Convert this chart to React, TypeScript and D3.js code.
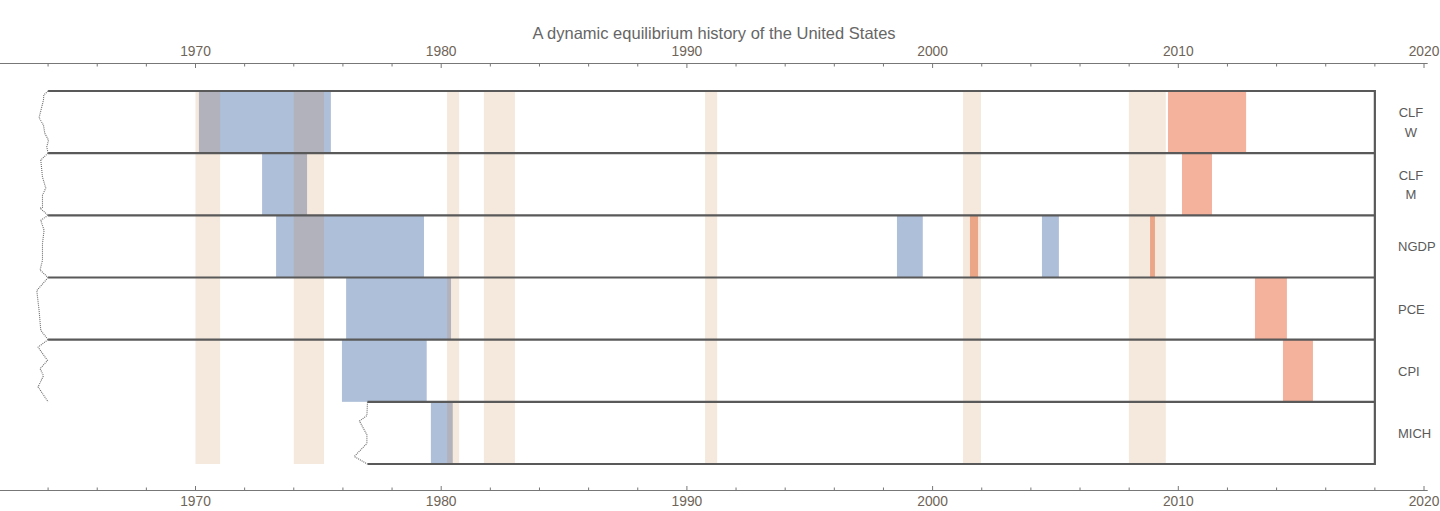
import React from "react";
import * as d3 from "d3";

// ---- data ----
const rowLabels: string[][] = [["CLF", "W"], ["CLF", "M"], ["NGDP"], ["PCE"], ["CPI"], ["MICH"]];
const rowStartYears = [1964, 1964, 1964, 1964, 1964, 1977];
const rowEndYear = 2018;

const recessionStarts = [1970.0, 1974.0, 1980.24, 1981.74, 1990.74, 2001.24, 2007.99];
const recessionEnds = [1971.0, 1975.23, 1980.73, 1983.0, 1991.23, 2001.97, 2009.49];

// shocks: row index, start, end, sign (-1 negative / blue, +1 positive / red)
const shockRows = [0, 0, 1, 1, 2, 2, 2, 2, 2, 3, 3, 4, 4, 5];
const shockStarts = [1970.14, 2009.58, 1972.71, 2010.15, 1973.28, 1998.55, 2001.52, 2004.45, 2008.85, 1976.13, 2013.12, 1975.96, 2014.26, 1979.58];
const shockEnds = [1975.51, 2012.76, 1974.54, 2011.37, 1979.3, 1999.6, 2001.85, 2005.14, 2009.05, 1980.4, 2014.42, 1979.41, 2015.48, 1980.47];
const shockSigns = [-1, 1, -1, 1, -1, -1, 1, -1, 1, -1, 1, -1, 1, -1];

const majorTicks = [1970, 1980, 1990, 2000, 2010, 2020];
const minorTicks = d3.range(1964, 2021, 2).filter((y) => y % 10 !== 0);

// torn left edge: [fraction of row height, offset px]
const tears: number[][][] = [
  [[0, 0], [0.065, -4.3], [0.145, -4.6], [0.43, -9], [0.55, -4.6], [0.68, -3.3], [0.79, 0.4], [0.9, -1.3], [1, 0]],
  [[0, 0], [0.11, -7.3], [0.385, -5.6], [0.56, -2.3], [0.675, -5.6], [0.87, -5.6], [0.885, -8], [1, 0]],
  [[0, 0], [0.08, -7.3], [0.24, -4], [0.45, -5.6], [0.72, -5.6], [0.88, -8], [1, 0]],
  [[0, 0], [0.21, -11.3], [0.53, -9], [0.85, -7.3], [1, 0]],
  [[0, 0], [0.12, -10], [0.335, -0.6], [0.465, -8], [0.58, -4.6], [0.76, -10], [1, 0]],
  [[0, 0], [0.22, -0.6], [0.31, -8], [0.53, -0.6], [0.67, -0.6], [0.88, -13.3], [1, 0]],
];

const title = "A dynamic equilibrium history of the United States";

// ---- layout ----
const W = 1440;
const H = 511;
const x = d3.scaleLinear().domain([1970, 2020]).range([195.5, 1424]);
const rowY = d3.scaleLinear().domain([0, rowLabels.length]).range([91, 464]);
const topAxisY = 63.5;
const bottomAxisY = 490.5;

const BLUE = "#aebfd9";
const RED = "#f4b19b";
const REC = "rgba(193,113,40,0.165)";
const LINE = "#595959";
const TXT = "#5a5a5a";
const FONT = "'Liberation Sans', Arial, sans-serif";

export default function App() {
  const rh = rowY(1) - rowY(0);
  const lineGen = d3.line<number[]>().x((d) => d[0]).y((d) => d[1]);

  return (
    <svg width={W} height={H} style={{ position: "absolute", left: 0, top: 0, background: "#fff" }} fontFamily={FONT}>
      <rect x={0} y={0} width={W} height={H} fill="#fff" />
      {/* title */}
      <text x={714} y={39} textAnchor="middle" fontSize={16.5} fill="#666">{title}</text>

      {/* axes */}
      {[topAxisY, bottomAxisY].map((ay, ai) => {
        const dir = ai === 0 ? 1 : -1;
        return (
          <g key={ai}>
            <line x1={x(1962)} x2={x(2020.15)} y1={ay} y2={ay} stroke="#777" strokeWidth={1} />
            {majorTicks.map((t) => (
              <g key={t}>
                <line x1={x(t)} x2={x(t)} y1={ay} y2={ay + dir * 4.5} stroke="#777" strokeWidth={1} />
                <text x={x(t)} y={ai === 0 ? 56 : 506} textAnchor="middle" fontSize={13.8} fill="#6e6458">{t}</text>
              </g>
            ))}
            {minorTicks.map((t) => (
              <line key={t} x1={x(t)} x2={x(t)} y1={ay} y2={ay + dir * 3} stroke="#777" strokeWidth={1} />
            ))}
          </g>
        );
      })}

      {/* shocks */}
      {shockStarts.map((s, i) => (
        <rect
          key={i}
          x={x(s)}
          width={x(shockEnds[i]) - x(s)}
          y={rowY(shockRows[i])}
          height={rh}
          fill={shockSigns[i] < 0 ? BLUE : RED}
        />
      ))}

      {/* recessions */}
      {recessionStarts.map((s, i) => (
        <rect key={i} x={x(s)} width={x(recessionEnds[i]) - x(s)} y={rowY(0)} height={rowY(rowLabels.length) - rowY(0)} fill={REC} />
      ))}

      {/* row boundary lines */}
      {rowLabels.map((_, i) => (
        <line key={"t" + i} x1={x(rowStartYears[i])} x2={x(rowEndYear)} y1={rowY(i)} y2={rowY(i)} stroke={LINE} strokeWidth={2.2} />
      ))}
      <line
        x1={x(rowStartYears[rowLabels.length - 1])}
        x2={x(rowEndYear)}
        y1={rowY(rowLabels.length)}
        y2={rowY(rowLabels.length)}
        stroke={LINE}
        strokeWidth={2.2}
      />
      <line x1={x(rowEndYear)} x2={x(rowEndYear)} y1={rowY(0) - 1.1} y2={rowY(rowLabels.length) + 1.1} stroke={LINE} strokeWidth={2.2} />

      {/* torn left edges */}
      {tears.map((pts, i) => {
        const x0 = x(rowStartYears[i]);
        const y0 = rowY(i);
        const p = pts.map((d) => [x0 + d[1], y0 + d[0] * rh]);
        return <path key={i} d={lineGen(p) || ""} fill="none" stroke="#6a6a6a" strokeWidth={1.1} strokeDasharray="1 1" />;
      })}

      {/* row labels */}
      {rowLabels.map((lab, i) => {
        const cy = (rowY(i) + rowY(i + 1)) / 2;
        if (lab.length === 1) {
          return (
            <text key={i} x={1398} y={cy + 5} fontSize={13} fill={TXT}>{lab[0]}</text>
          );
        }
        return (
          <g key={i}>
            {lab.map((l, j) => (
              <text key={j} x={1411} y={cy + 5 + (j - 0.5) * 19.5} textAnchor="middle" fontSize={13} fill={TXT}>{l}</text>
            ))}
          </g>
        );
      })}
    </svg>
  );
}
